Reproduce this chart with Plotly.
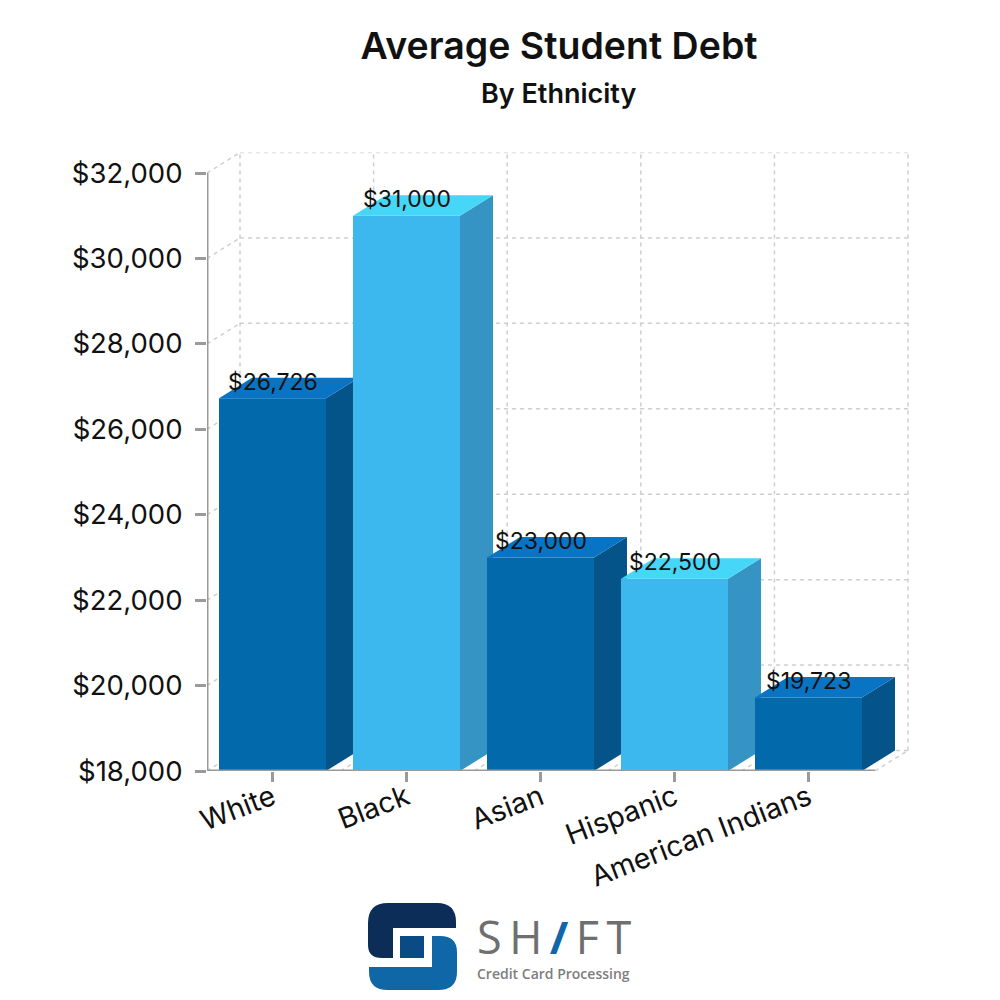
import plotly.graph_objects as go

categories = ["White", "Black", "Asian", "Hispanic", "American Indians"]
values = [26726, 31000, 23000, 22500, 19723]
y_ticks = [18000, 20000, 22000, 24000, 26000, 28000, 30000, 32000]
y_tick_labels = ["$18,000", "$20,000", "$22,000", "$24,000", "$26,000", "$28,000", "$30,000", "$32,000"]
front_colors = ["#0269AB", "#3DB8EE", "#0269AB", "#3DB8EE", "#0269AB"]
top_colors = ["#0A74C4", "#46D6F7", "#0A74C4", "#46D6F7", "#0A74C4"]
side_colors = ["#04548A", "#3594C4", "#04548A", "#3594C4", "#04548A"]

FONT = "Inter"
PX_X = 134.0            # pixels per category
PX_Y = 598 / 14000      # pixels per dollar
DEPTH_X = 33 / PX_X
DEPTH_Y = 20.5 / PX_Y
BAR_W = 107 / PX_X
BASE = y_ticks[0]
X_LEFT = (207 - 272.5) / PX_X
X_RIGHT = (909 - 272.5) / PX_X
SLOT = (875 - 207) / 5 / PX_X
Y_TOP = y_ticks[-1] + DEPTH_Y

x_pos = list(range(len(categories)))
fig = go.Figure()

# one overlaid y axis per bar so that each bar paints over its left neighbour
for i, (v, front, top, side) in enumerate(zip(values, front_colors, top_colors, side_colors)):
    ya = "y" if i == 0 else f"y{i + 1}"
    xl, xr = x_pos[i] - BAR_W / 2, x_pos[i] + BAR_W / 2
    fig.add_trace(go.Bar(x=[x_pos[i]], y=[v], width=BAR_W, yaxis=ya, marker=dict(color=front, line_width=0),
                         showlegend=False, hoverinfo="skip"))
    fig.add_trace(go.Scatter(x=[xr, xr + DEPTH_X, xr + DEPTH_X, xr, xr],
                             y=[BASE, BASE + DEPTH_Y, v + DEPTH_Y, v, BASE],
                             yaxis=ya, fill="toself", fillcolor=side, mode="none",
                             showlegend=False, hoverinfo="skip"))
    fig.add_trace(go.Scatter(x=[xl, xl + DEPTH_X, xr + DEPTH_X, xr, xl],
                             y=[v, v + DEPTH_Y, v + DEPTH_Y, v, v],
                             yaxis=ya, fill="toself", fillcolor=top, mode="none",
                             showlegend=False, hoverinfo="skip"))

# ---- dashed 3-D grid, behind the bars
grid = dict(color="#cfcfcf", width=1.5, dash="4px,4px")
shapes = []
def line(x0, y0, x1, y1, ln):
    shapes.append(dict(type="line", xref="x", yref="y", x0=x0, y0=y0, x1=x1, y1=y1, line=ln, layer="below"))

for t in y_ticks:
    line(X_LEFT + DEPTH_X, t + DEPTH_Y, X_RIGHT, t + DEPTH_Y, grid)
    line(X_LEFT, t, X_LEFT + DEPTH_X, t + DEPTH_Y, grid)
for k in range(6):
    xb = X_LEFT + k * SLOT
    line(xb + DEPTH_X, BASE + DEPTH_Y, xb + DEPTH_X, y_ticks[-1] + DEPTH_Y, grid)
    if k:
        line(xb, BASE, xb + DEPTH_X, BASE + DEPTH_Y, grid)

# ---- solid axis lines
axis_ln = dict(color="#9a9a9a", width=3)
shapes.append(dict(type="line", xref="x", yref="y", x0=X_LEFT, y0=BASE, x1=X_LEFT, y1=y_ticks[-1], line=axis_ln, layer="above"))
shapes.append(dict(type="line", xref="x", yref="y", x0=X_LEFT, y0=BASE, x1=X_LEFT + 5 * SLOT, y1=BASE, line=axis_ln, layer="above"))

# ---- logo (page pixels -> paper)
def py(v):
    return 1 - v / 1000
def px(v):
    return v / 1000
def logo_path(cmds):
    out = []
    for c in cmds:
        out.append(c[0] + " ".join(f"{px(c[j])},{py(c[j + 1])}" for j in range(1, len(c), 2)))
    return " ".join(out) + " Z"

dark = [("M", 368, 923), ("Q", 368, 903, 388, 903), ("L", 437, 903), ("Q", 456, 903, 456, 922),
        ("L", 456, 928), ("L", 393, 928), ("L", 393, 958), ("L", 382, 958), ("Q", 368, 958, 368, 945)]
blue = [("M", 369, 967), ("L", 432, 967), ("L", 432, 936), ("L", 440, 936), ("Q", 457, 936, 457, 952),
        ("L", 457, 972), ("Q", 457, 990, 438, 990), ("L", 388, 990), ("Q", 369, 990, 369, 972)]
square = [("M", 400, 936), ("L", 424, 936), ("L", 424, 958), ("L", 400, 958)]
for path, col in ((dark, "#0B2D57"), (blue, "#0F67A8"), (square, "#0A4A85")):
    shapes.append(dict(type="path", xref="paper", yref="paper", path=logo_path(path), fillcolor=col, line_width=0, layer="above"))

annotations = [
    dict(text="By Ethnicity", x=0.5585, y=py(94), xref="paper", yref="paper", yanchor="middle", showarrow=False,
         font=dict(family=FONT, size=27, color="#111", weight=600)),
    dict(text="S\u2009H\u2009<span style='color:#0F67A8'><b>/</b></span>\u2009F\u2009T", x=0.554, y=py(936), xref="paper", yref="paper",
         yanchor="middle", showarrow=False, font=dict(family="Open Sans", size=45, color="#6f6f6f")),
    dict(text="Credit Card Processing", x=0.553, y=py(973), xref="paper", yref="paper", yanchor="middle", showarrow=False,
         font=dict(family="Open Sans", size=14, color="#7d7d7d", weight=600)),
]
# value labels, centred above each bar's front face
for xp, v in zip(x_pos, values):
    annotations.append(dict(text=f"${v:,}", x=xp, y=v, xref="x", yref="y", yanchor="middle", yshift=16.5,
                            showarrow=False, font=dict(family=FONT, size=23, color="#111")))

layout_axes = {}
for i in range(2, len(values) + 1):
    layout_axes[f"yaxis{i}"] = dict(overlaying="y", visible=False, range=[BASE, Y_TOP], anchor="x", automargin=False)

fig.update_layout(
    width=1000, height=1000, margin=dict(l=0, r=0, t=0, b=0, pad=0, autoexpand=False),
    paper_bgcolor="white", plot_bgcolor="rgba(0,0,0,0)", showlegend=False,
    title=dict(text="Average Student Debt", x=0.559, xanchor="center", y=py(46), yanchor="middle",
               font=dict(family=FONT, size=37.5, color="#111", weight=600)),
    xaxis=dict(domain=[px(207), px(909)], range=[X_LEFT, X_RIGHT], tickmode="array", tickvals=x_pos, ticktext=categories,
               tickangle=-21, ticks="outside", ticklen=10, tickwidth=2.5, tickcolor="#9a9a9a", automargin=False, ticklabelstandoff=-12,
               tickfont=dict(family=FONT, size=28.5, color="#111"), showgrid=False, zeroline=False, showline=False),
    yaxis=dict(domain=[py(771), py(152.5)], range=[BASE, Y_TOP], tickmode="array", tickvals=y_ticks, ticktext=y_tick_labels,
               ticks="outside", ticklen=11, tickwidth=2.5, tickcolor="#9a9a9a", automargin=False, ticklabelstandoff=7,
               tickfont=dict(family=FONT, size=27.5, color="#111"), showgrid=False, zeroline=False, showline=False),
    shapes=shapes, annotations=annotations, **layout_axes,
)

fig.write_html("out.html", post_script="document.body.style.margin='0';document.documentElement.style.overflow='hidden';",
               config=dict(displayModeBar=False))
